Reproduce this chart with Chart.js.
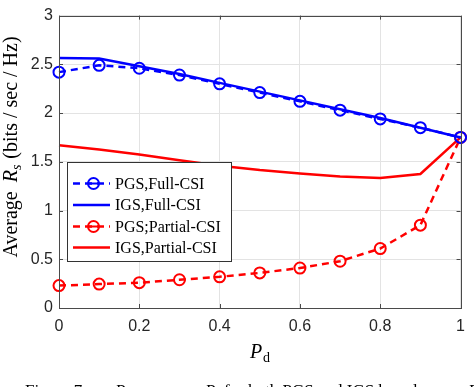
<!DOCTYPE html>
<html>
<head>
<meta charset="utf-8">
<script src="https://cdn.jsdelivr.net/npm/chart.js@4/dist/chart.umd.min.js"></script>
<style>
html,body{margin:0;padding:0;background:#fff;}
#wrap{position:relative;width:474px;height:387px;}
</style>
</head>
<body>
<div id="wrap"><canvas id="c" width="474" height="387"></canvas></div>
<script>
// ---- data ----
const pdValues = [0, 0.1, 0.2, 0.3, 0.4, 0.5, 0.6, 0.7, 0.8, 0.9, 1.0];
const pgsFullCSI = [2.42, 2.49, 2.46, 2.39, 2.30, 2.21, 2.12, 2.03, 1.94, 1.85, 1.75];
const igsFullCSI = [2.565, 2.56, 2.48, 2.40, 2.31, 2.22, 2.13, 2.04, 1.95, 1.85, 1.75];
const pgsPartialCSI = [0.23, 0.245, 0.26, 0.29, 0.32, 0.36, 0.41, 0.48, 0.61, 0.85, 1.75];
const igsPartialCSI = [1.67, 1.625, 1.575, 1.515, 1.46, 1.415, 1.38, 1.35, 1.335, 1.375, 1.75];
const seriesLabels = ['PGS,Full-CSI', 'IGS,Full-CSI', 'PGS;Partial-CSI', 'IGS,Partial-CSI'];
const xTickValues = [0, 0.2, 0.4, 0.6, 0.8, 1];
const yTickValues = [0, 0.5, 1, 1.5, 2, 2.5, 3];

const BLUE = '#0000ff', RED = '#ff0000';
const toXY = arr => arr.map((v, i) => ({x: pdValues[i], y: v}));

function ds(label, data, color, dashed) {
  return {
    label, data: toXY(data),
    borderColor: color, backgroundColor: 'rgba(0,0,0,0)',
    borderWidth: 2.5,
    borderDash: dashed ? [7, 5] : [],
    pointRadius: dashed ? 5.5 : 0,
    pointHoverRadius: dashed ? 5.5 : 0,
    pointBorderWidth: 2,
    pointBorderColor: color,
    pointBackgroundColor: 'rgba(0,0,0,0)',
    pointStyle: 'circle',
    tension: 0, clip: false, fill: false
  };
}

const datasets = [
  ds(seriesLabels[0], pgsFullCSI, BLUE, true),
  ds(seriesLabels[1], igsFullCSI, BLUE, false),
  ds(seriesLabels[2], pgsPartialCSI, RED, true),
  ds(seriesLabels[3], igsPartialCSI, RED, false)
];

const SERIF = '"Liberation Serif", "DejaVu Serif", serif';
const SANS = '"Liberation Sans", Arial, sans-serif';
const AXC = '#262626';

function drawRich(ctx, parts, x, y) {
  let cx = x;
  for (const p of parts) {
    ctx.font = p[1];
    ctx.fillText(p[0], cx, y + (p[2] || 0));
    cx += ctx.measureText(p[0]).width + (p[3] || 0);
  }
  return cx - x;
}
function richWidth(ctx, parts) {
  let w = 0;
  for (const p of parts) { ctx.font = p[1]; w += ctx.measureText(p[0]).width + (p[3] || 0); }
  return w;
}

const decor = {
  id: 'decor',
  afterDraw(chart) {
    const ctx = chart.ctx;
    const a = chart.chartArea;
    const xs = chart.scales.x, ys = chart.scales.y;
    ctx.save();
    // frame
    ctx.strokeStyle = '#4a4a4a';
    ctx.lineWidth = 1;
    ctx.strokeRect(Math.round(a.left) + 0.5, Math.round(a.top) + 0.5, Math.round(a.right - a.left), Math.round(a.bottom - a.top));
    // inward ticks
    const tl = 4;
    ctx.beginPath();
    for (const v of xTickValues) {
      const px = Math.round(xs.getPixelForValue(v)) + 0.5;
      ctx.moveTo(px, a.bottom); ctx.lineTo(px, a.bottom - tl);
      ctx.moveTo(px, a.top); ctx.lineTo(px, a.top + tl);
    }
    for (const v of yTickValues) {
      const py = Math.round(ys.getPixelForValue(v)) + 0.5;
      ctx.moveTo(a.left, py); ctx.lineTo(a.left + tl, py);
      ctx.moveTo(a.right, py); ctx.lineTo(a.right - tl, py);
    }
    ctx.stroke();

    // legend
    const lx = 67, ly = 162, lw = 164, lh = 99;
    ctx.fillStyle = '#fff';
    ctx.fillRect(lx, ly, lw, lh);
    ctx.strokeStyle = '#333';
    ctx.lineWidth = 1;
    ctx.strokeRect(lx + 0.5, ly + 0.5, lw, lh);
    const rowY = [183.5, 205, 226.5, 247.5];
    chart.data.datasets.forEach((d, i) => {
      const y = rowY[i];
      ctx.strokeStyle = d.borderColor;
      ctx.lineWidth = 2.5;
      ctx.setLineDash(d.borderDash);
      ctx.beginPath(); ctx.moveTo(73, y); ctx.lineTo(110, y); ctx.stroke();
      ctx.setLineDash([]);
      if (d.pointRadius > 0) {
        ctx.lineWidth = 2;
        ctx.beginPath(); ctx.arc(93.5, y, 5.5, 0, Math.PI * 2); ctx.stroke();
        ctx.beginPath(); ctx.moveTo(88, y); ctx.lineTo(99, y); ctx.stroke();
      }
      ctx.fillStyle = '#000';
      ctx.font = '16px ' + SERIF;
      ctx.textBaseline = 'middle';
      ctx.textAlign = 'left';
      ctx.fillText(d.label, 115, y + 1);
    });

    // y axis title (rotated)
    ctx.fillStyle = '#000';
    ctx.textBaseline = 'alphabetic';
    const fs = 20;
    const yParts = [
      ['Average ', fs + 'px ' + SERIF, 0, 4],
      ['R', 'italic ' + fs + 'px ' + SERIF, 0],
      ['s', 'italic ' + Math.round(fs * 0.7) + 'px ' + SERIF, 4, 6],
      ['(bits', fs + 'px ' + SERIF, 0],
      [' / ', fs + 'px ' + SERIF, 0],
      ['sec', fs + 'px ' + SERIF, 0],
      [' / ', fs + 'px ' + SERIF, 0],
      ['Hz)', fs + 'px ' + SERIF, 0]
    ];
    const yw = richWidth(ctx, yParts);
    ctx.save();
    ctx.translate(17, 147);
    ctx.rotate(-Math.PI / 2);
    drawRich(ctx, yParts, -yw / 2, 0);
    ctx.restore();

    // x axis title
    const xParts = [
      ['P', 'italic 20px ' + SERIF, 0, 1],
      ['d', '14px ' + SERIF, 4]
    ];
    const xw = richWidth(ctx, xParts);
    drawRich(ctx, xParts, 260 - xw / 2, 358);

    // caption (cut off by bottom edge)
    const cf = '17px ' + SERIF, ci = 'italic 17px ' + SERIF, cs = 'italic 12px ' + SERIF;
    const base = 396;
    drawRich(ctx, [['Figure 7:', cf, 0]], 25, base);
    drawRich(ctx, [['R', ci, 0], ['s', cs, 4, 4], ['versus', cf, 0]], 115, base);
    drawRich(ctx, [['R', ci, 0], ['s', cs, 4, 4], ['for both PGS and IGS based on', cf, 0]], 205, base);
    drawRich(ctx, [['P', ci, 0]], 468, base);
    ctx.restore();
  }
};

new Chart(document.getElementById('c'), {
  type: 'line',
  data: { datasets },
  options: {
    responsive: false,
    animation: false,
    devicePixelRatio: 1,
    layout: { padding: { top: 7, right: 13, left: 0, bottom: 0 } },
    plugins: { legend: { display: false }, tooltip: { enabled: false } },
    scales: {
      x: {
        type: 'linear', min: 0, max: 1,
        afterFit: s => { s.height = 79; },
        afterBuildTicks: s => { s.ticks = xTickValues.map(v => ({value: v})); },
        grid: { color: '#e3e3e3', drawTicks: false, lineWidth: 1 },
        border: { display: false },
        ticks: {
          padding: 9, color: AXC, font: { family: SANS, size: 16 },
          callback: v => String(+v.toFixed(1)), maxRotation: 0, autoSkip: false
        }
      },
      y: {
        type: 'linear', min: 0, max: 3,
        afterFit: s => { s.width = 59; },
        afterBuildTicks: s => { s.ticks = yTickValues.map(v => ({value: v})); },
        grid: { color: '#e3e3e3', drawTicks: false, lineWidth: 1 },
        border: { display: false },
        ticks: {
          padding: 6, color: AXC, font: { family: SANS, size: 16 },
          callback: v => String(+v.toFixed(1)), autoSkip: false
        }
      }
    }
  },
  plugins: [decor]
});
</script>
</body>
</html>
